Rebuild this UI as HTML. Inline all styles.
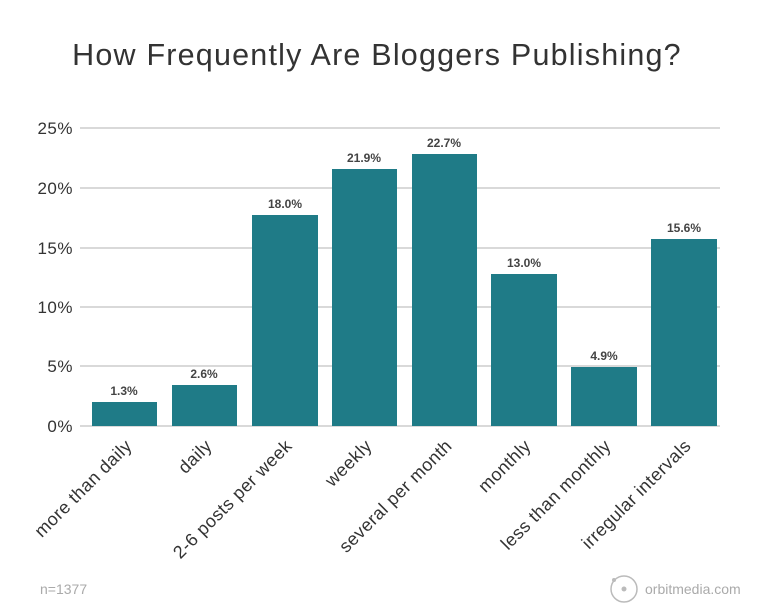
<!DOCTYPE html>
<html><head><style>
html,body{margin:0;padding:0;background:#fff;}
svg{display:block;font-family:"Liberation Sans",sans-serif;}
</style></head><body>
<svg width="777" height="612" viewBox="0 0 777 612">
<text x="377" y="65" text-anchor="middle" font-size="30.5" letter-spacing="1.2" fill="#333">How Frequently Are Bloggers Publishing?</text>
<g stroke="#d9d9d9" stroke-width="2">
<line x1="80" x2="720" y1="128" y2="128"/>
<line x1="80" x2="720" y1="188" y2="188"/>
<line x1="80" x2="720" y1="248" y2="248"/>
<line x1="80" x2="720" y1="307" y2="307"/>
<line x1="80" x2="720" y1="366" y2="366"/>
<line x1="80" x2="720" y1="426" y2="426"/>
</g>
<g font-size="17" fill="#333" text-anchor="end" letter-spacing="0.5">
<text x="73" y="134">25%</text>
<text x="73" y="194">20%</text>
<text x="73" y="254">15%</text>
<text x="73" y="313">10%</text>
<text x="73" y="372">5%</text>
<text x="73" y="432">0%</text>
</g>
<g fill="#1f7b87">
<rect x="92" y="402" width="65" height="24"/>
<rect x="172" y="385" width="65" height="41"/>
<rect x="252" y="215" width="66" height="211"/>
<rect x="332" y="169" width="65" height="257"/>
<rect x="412" y="154" width="65" height="272"/>
<rect x="491" y="274" width="66" height="152"/>
<rect x="571" y="367" width="66" height="59"/>
<rect x="651" y="239" width="66" height="187"/>
</g>
<g font-size="12" font-weight="bold" fill="#444" text-anchor="middle">
<text x="124" y="395">1.3%</text>
<text x="204" y="378">2.6%</text>
<text x="285" y="208">18.0%</text>
<text x="364" y="162">21.9%</text>
<text x="444" y="147">22.7%</text>
<text x="524" y="267">13.0%</text>
<text x="604" y="360">4.9%</text>
<text x="684" y="232">15.6%</text>
</g>
<g font-size="18" fill="#333" text-anchor="end" letter-spacing="0.4">
<text transform="translate(133,447) rotate(-45)">more than daily</text>
<text transform="translate(213,447) rotate(-45)">daily</text>
<text transform="translate(293,447) rotate(-45)">2-6 posts per week</text>
<text transform="translate(373,447) rotate(-45)">weekly</text>
<text transform="translate(453,447) rotate(-45)">several per month</text>
<text transform="translate(532,447) rotate(-45)">monthly</text>
<text transform="translate(612,447) rotate(-45)">less than monthly</text>
<text transform="translate(692,447) rotate(-45)">irregular intervals</text>
</g>
<text x="40" y="594" font-size="14" fill="#aaa">n=1377</text>
<circle cx="624" cy="589" r="13" fill="none" stroke="#bbb" stroke-width="1.5"/>
<circle cx="624" cy="589" r="2.5" fill="#bbb"/>
<circle cx="614" cy="580" r="2" fill="#bbb"/>
<text x="645" y="594" font-size="14" fill="#aaa">orbitmedia.com</text>
</svg>
</body></html>
